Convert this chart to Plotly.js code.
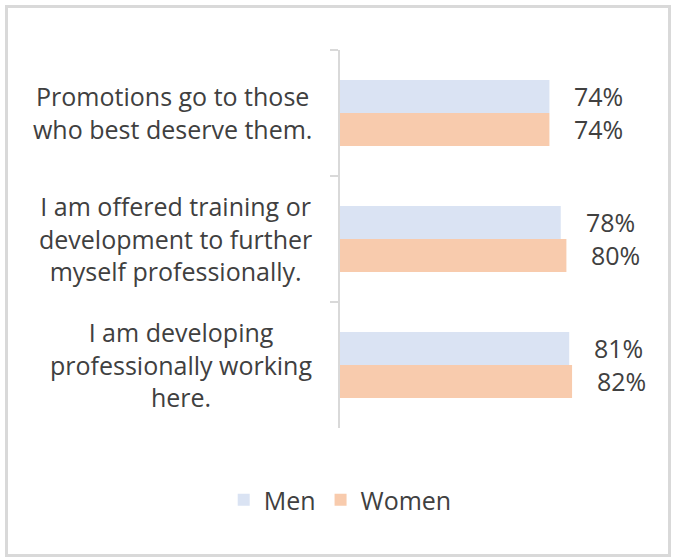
<!DOCTYPE html>
<html>
<head>
<meta charset="utf-8">
<script src="https://cdn.plot.ly/plotly-3.0.1.min.js"></script>
<style>
html,body{margin:0;padding:0;background:#fff;}
#wrap{position:relative;width:675px;height:560px;}
#chart{width:675px;height:560px;}
#frame{position:absolute;left:5px;top:5px;width:666px;height:552px;box-sizing:border-box;border:3px solid #d9d9d9;pointer-events:none;}
</style>
</head>
<body>
<div id="wrap"><div id="chart"></div><div id="frame"></div></div>
<script>
const categories = [
  "Promotions go to those<br>who best deserve them.",
  "I am offered training or<br>development to further<br>myself professionally.",
  "I am developing<br>professionally working<br>here."
];
const menValues = [74, 78, 81];
const womenValues = [74, 80, 82];
const seriesNames = ["Men", "Women"];

const FONT = "Open Sans, sans-serif";
const TXT = "#404040";
const FS = 25;

const traces = [
  {type:"bar", orientation:"h", name:seriesNames[0], y:categories, x:menValues,
   marker:{color:"#DAE3F3"}, hoverinfo:"skip"},
  {type:"bar", orientation:"h", name:seriesNames[1], y:categories, x:womenValues,
   marker:{color:"#F8CBAD"}, hoverinfo:"skip"}
];

const annotations = [];
categories.forEach((c, i) => {
  annotations.push({xref:"x", yref:"y", x:menValues[i], y:c, text:menValues[i]+"%",
    showarrow:false, xanchor:"left", yanchor:"middle", xshift:23, yshift:17,
    font:{family:FONT, size:FS, color:TXT}});
  annotations.push({xref:"x", yref:"y", x:womenValues[i], y:c, text:womenValues[i]+"%",
    showarrow:false, xanchor:"left", yanchor:"middle", xshift:23, yshift:-16,
    font:{family:FONT, size:FS, color:TXT}});
  annotations.push({xref:"paper", yref:"y", x:0, y:c, text:c, align:"center",
    showarrow:false, xanchor:"right", yanchor:"middle", xshift:-26, yshift:1,
    font:{family:FONT, size:FS, color:TXT}});
});

const layout = {
  width:675, height:560,
  margin:{l:340, r:52, t:50, b:132},
  paper_bgcolor:"#fff", plot_bgcolor:"#fff",
  barmode:"group", bargap:0.476, bargroupgap:0,
  showlegend:true,
  legend:{orientation:"h", xref:"container", yref:"container", x:0.504, y:0.107,
    xanchor:"center", yanchor:"middle", font:{family:FONT, size:FS, color:TXT}},
  xaxis:{range:[0,100], visible:false, fixedrange:true},
  yaxis:{type:"category", autorange:"reversed", showticklabels:false,
    showline:true, linecolor:"#d9d9d9", linewidth:2.5,
    ticks:"outside", tickson:"boundaries", ticklen:8, tickcolor:"#d9d9d9", tickwidth:2,
    showgrid:false, zeroline:false, fixedrange:true},
  annotations:annotations,
  font:{family:FONT, color:TXT}
};

Plotly.newPlot("chart", traces, layout, {displayModeBar:false, staticPlot:true});
</script>
</body>
</html>
